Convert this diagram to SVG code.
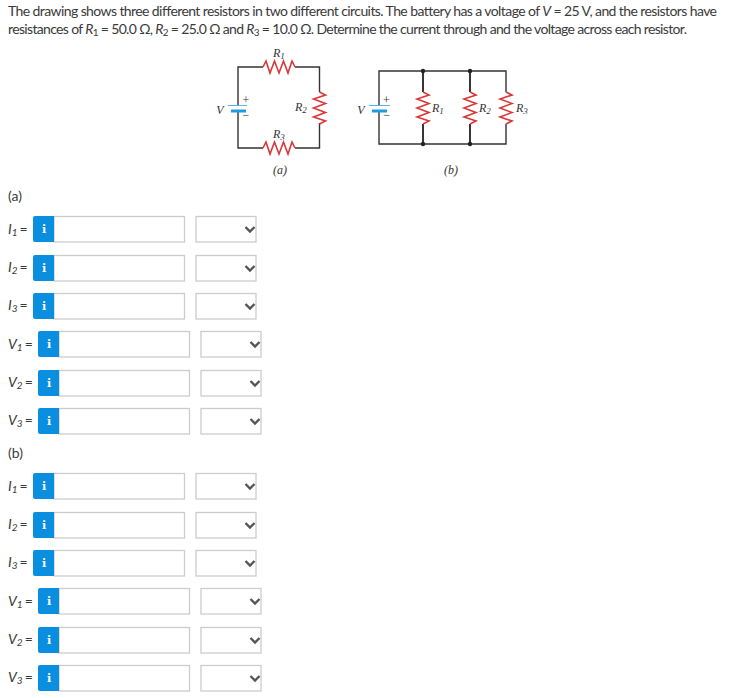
<svg xmlns="http://www.w3.org/2000/svg" width="732" height="698" viewBox="0 0 732 698">
<style>
.t{font-family:Lato,"Liberation Sans",sans-serif;font-size:14px;fill:#3a3a3a}
.l{font-family:Lato,"Liberation Sans",sans-serif;font-size:14px;fill:#3a3a3a}
.it{font-style:italic}
.sub{font-size:10px}
.c{font-family:"Liberation Serif",serif;font-size:12px;fill:#333}
.cs{font-size:9px}
.w{fill:none;stroke:#333;stroke-width:1.4}
.wb{fill:none;stroke:#222;stroke-width:1.8}
.r{fill:none;stroke:#d8383a;stroke-width:1.6;stroke-linejoin:miter}
.b1{stroke:#5ab4e6;stroke-width:1}
.b2{stroke:#1f9be0;stroke-width:3}
.in{fill:#fff;stroke:#ccc;stroke-width:1.3}
.bl{fill:#0a8fe0}
.i{font-family:"DejaVu Serif",serif;font-weight:bold;font-size:11px;fill:#fff;text-anchor:middle}
.ch{fill:none;stroke:#555;stroke-width:2.4}
</style>
<defs>
<g id="rh"><path class="r" d="M0 0L3 -6L7 6L11.500 -6L16 6L20.500 -6L25 6L29 -6L32 0"/></g>
<g id="rv"><path class="r" d="M0 0L6 3L-6 7L6 11.500L-6 16L6 20.500L-6 25L6 29L0 32"/></g>
<g id="field">
<rect class="in" x="21" y="0.500" width="130.500" height="25.500"/>
<path class="bl" d="M2 0H21V26H2Q0 26 0 24V2Q0 0 2 0Z"/>
<text class="i" x="11" y="17">i</text>
<rect class="in" x="163" y="0.500" width="60" height="25.500"/>
<path class="ch" d="M212.500 11L217 15.500L221.500 11"/>
</g>
</defs>

<g id="question">
<text class="t" x="8" y="16" textLength="709" lengthAdjust="spacing">The drawing shows three different resistors in two different circuits. The battery has a voltage of <tspan class="it">V</tspan> = 25 V, and the resistors have</text>
<text class="t" x="8" y="34" textLength="679" lengthAdjust="spacing">resistances of <tspan class="it">R</tspan><tspan class="sub" dy="2">1</tspan><tspan dy="-2"> = 50.0 Ω, </tspan><tspan class="it">R</tspan><tspan class="sub" dy="2">2</tspan><tspan dy="-2"> = 25.0 Ω and </tspan><tspan class="it">R</tspan><tspan class="sub" dy="2">3</tspan><tspan dy="-2"> = 10.0 Ω. Determine the current through and the voltage across each resistor.</tspan></text>
</g>

<g id="connectors">
<path class="w" d="M238 105V67H263M295 67H319.500V92M319.500 123V148H295M263 148H238V111"/>
<path class="w" d="M379 105V71H506V92M506 124V144H379V111"/>
<path class="wb" d="M423 71V92M423 124V144M470 71V92M470 124V144"/>
</g>

<g id="circuit-a">
<use href="#rh" x="263" y="67"/>
<use href="#rv" x="319.500" y="92"/>
<use href="#rh" x="263" y="148"/>
<line class="b1" x1="228" x2="247" y1="105.500" y2="105.500"/>
<line class="b2" x1="231" x2="246" y1="111" y2="111"/>
<text class="c" x="246" y="103.500" text-anchor="middle">+</text>
<text class="c" x="246" y="118.500" text-anchor="middle">−</text>
<text class="c it" x="220" y="114" text-anchor="middle">V</text>
<text class="c it" x="273" y="57">R<tspan class="cs" dy="2">1</tspan></text>
<text class="c it" x="295" y="111">R<tspan class="cs" dy="2">2</tspan></text>
<text class="c it" x="273" y="138">R<tspan class="cs" dy="2">3</tspan></text>
<text class="c it" x="280" y="174" text-anchor="middle">(a)</text>
</g>

<g id="circuit-b">
<circle cx="423" cy="71" r="2.200" fill="#222"/><circle cx="470" cy="71" r="2.200" fill="#222"/>
<circle cx="423" cy="144" r="2.200" fill="#222"/><circle cx="470" cy="144" r="2.200" fill="#222"/>
<use href="#rv" x="423" y="92"/>
<use href="#rv" x="470" y="92"/>
<use href="#rv" x="506" y="92"/>
<line class="b1" x1="369" x2="390" y1="105.500" y2="105.500"/>
<line class="b2" x1="372" x2="387" y1="111" y2="111"/>
<text class="c" x="386.500" y="103.500" text-anchor="middle">+</text>
<text class="c" x="387" y="118.500" text-anchor="middle">−</text>
<text class="c it" x="361" y="114" text-anchor="middle">V</text>
<text class="c it" x="432" y="112">R<tspan class="cs" dy="2">1</tspan></text>
<text class="c it" x="479" y="112">R<tspan class="cs" dy="2">2</tspan></text>
<text class="c it" x="516" y="112">R<tspan class="cs" dy="2">3</tspan></text>
<text class="c it" x="451" y="174" text-anchor="middle">(b)</text>
</g>

<g id="part-a">
<text class="l" x="8" y="201">(a)</text>
<g id="a-I1"><text class="l" x="8" y="234"><tspan class="it">I</tspan><tspan class="sub it" dy="2">1</tspan><tspan dy="-2" dx="2">=</tspan></text><use href="#field" x="33" y="216"/></g>
<g id="a-I2"><text class="l" x="8" y="272"><tspan class="it">I</tspan><tspan class="sub it" dy="2">2</tspan><tspan dy="-2" dx="2">=</tspan></text><use href="#field" x="33" y="255"/></g>
<g id="a-I3"><text class="l" x="8" y="310"><tspan class="it">I</tspan><tspan class="sub it" dy="2">3</tspan><tspan dy="-2" dx="2">=</tspan></text><use href="#field" x="33" y="293"/></g>
<g id="a-V1"><text class="l" x="8" y="349"><tspan class="it">V</tspan><tspan class="sub it" dy="2">1</tspan><tspan dy="-2" dx="2">=</tspan></text><use href="#field" x="38" y="331"/></g>
<g id="a-V2"><text class="l" x="8" y="387"><tspan class="it">V</tspan><tspan class="sub it" dy="2">2</tspan><tspan dy="-2" dx="2">=</tspan></text><use href="#field" x="38" y="370"/></g>
<g id="a-V3"><text class="l" x="8" y="425"><tspan class="it">V</tspan><tspan class="sub it" dy="2">3</tspan><tspan dy="-2" dx="2">=</tspan></text><use href="#field" x="38" y="408"/></g>
</g>

<g id="part-b">
<text class="l" x="8" y="458">(b)</text>
<g id="b-I1"><text class="l" x="8" y="491"><tspan class="it">I</tspan><tspan class="sub it" dy="2">1</tspan><tspan dy="-2" dx="2">=</tspan></text><use href="#field" x="33" y="473"/></g>
<g id="b-I2"><text class="l" x="8" y="529"><tspan class="it">I</tspan><tspan class="sub it" dy="2">2</tspan><tspan dy="-2" dx="2">=</tspan></text><use href="#field" x="33" y="512"/></g>
<g id="b-I3"><text class="l" x="8" y="567"><tspan class="it">I</tspan><tspan class="sub it" dy="2">3</tspan><tspan dy="-2" dx="2">=</tspan></text><use href="#field" x="33" y="550"/></g>
<g id="b-V1"><text class="l" x="8" y="606"><tspan class="it">V</tspan><tspan class="sub it" dy="2">1</tspan><tspan dy="-2" dx="2">=</tspan></text><use href="#field" x="38" y="588"/></g>
<g id="b-V2"><text class="l" x="8" y="644"><tspan class="it">V</tspan><tspan class="sub it" dy="2">2</tspan><tspan dy="-2" dx="2">=</tspan></text><use href="#field" x="38" y="627"/></g>
<g id="b-V3"><text class="l" x="8" y="682"><tspan class="it">V</tspan><tspan class="sub it" dy="2">3</tspan><tspan dy="-2" dx="2">=</tspan></text><use href="#field" x="38" y="665"/></g>
</g>
</svg>
